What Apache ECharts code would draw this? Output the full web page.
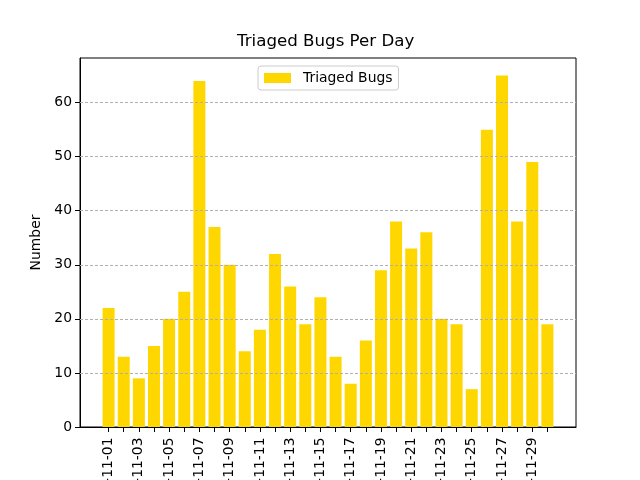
<!DOCTYPE html>
<html>
<head>
<meta charset="utf-8">
<script src="https://cdn.jsdelivr.net/npm/echarts@6/dist/echarts.min.js"></script>
<style>html,body{margin:0;padding:0;background:#fff}#c{width:640px;height:480px}</style>
</head>
<body>
<div id="c"></div>
<script>
const categories = ["2019-11-01","2019-11-02","2019-11-03","2019-11-04","2019-11-05","2019-11-06","2019-11-07","2019-11-08","2019-11-09","2019-11-10","2019-11-11","2019-11-12","2019-11-13","2019-11-14","2019-11-15","2019-11-16","2019-11-17","2019-11-18","2019-11-19","2019-11-20","2019-11-21","2019-11-22","2019-11-23","2019-11-24","2019-11-25","2019-11-26","2019-11-27","2019-11-28","2019-11-29","2019-11-30"];
const triagedBugs = [22,13,9,15,20,25,64,37,30,14,18,32,26,19,24,13,8,16,29,38,33,36,20,19,7,55,65,38,49,19];
const yTicks = [0,10,20,30,40,50,60];

const idx = categories.map((_, i) => i);
const labelIdx = idx.filter(i => i % 2 === 0);
const font = 'DejaVu Sans';
const fs = 13.9;
const chart = echarts.init(document.getElementById('c'), null, {renderer: 'canvas'});
chart.setOption({
  animation: false,
  backgroundColor: '#fff',
  title: {
    text: 'Triaged Bugs Per Day', left: 237, top: 33, padding: 0,
    textStyle: {fontFamily: font, fontSize: 16.67, fontWeight: 'normal', color: '#000'}
  },
  legend: {
    top: 66, left: 258,
    data: ['Triaged Bugs'],
    icon: 'rect', itemWidth: 27, itemHeight: 10, itemGap: 10,
    padding: [5, 6, 5, 6],
    borderColor: '#cccccc', borderWidth: 1, borderRadius: 3, backgroundColor: '#fff',
    textStyle: {fontFamily: font, fontSize: fs, color: '#000', padding: [0, 0, 0, 7]}
  },
  grid: {left: 80, right: 64, top: 58, bottom: 53, show: true, borderColor: '#000', borderWidth: 1, containLabel: false, outerBoundsMode: 'none'},
  xAxis: {
    type: 'value', min: -1.89, max: 30.89,
    axisLine: {show: true, onZero: false, lineStyle: {color: '#000'}},
    axisTick: {show: true, length: 5, lineStyle: {color: '#000'}, customValues: idx},
    axisLabel: {
      show: true, rotate: 90, customValues: labelIdx, margin: 10.5,
      fontFamily: font, fontSize: fs, color: '#000',
      formatter: v => categories[Math.round(v)]
    },
    splitLine: {show: false}
  },
  yAxis: {
    type: 'value', min: 0, max: 68.25,
    name: 'Number', nameLocation: 'middle', nameGap: 35,
    nameTextStyle: {fontFamily: font, fontSize: fs, color: '#000'},
    axisLine: {show: true, onZero: false, lineStyle: {color: '#000'}},
    axisTick: {show: true, length: 5, lineStyle: {color: '#000'}, customValues: yTicks},
    axisLabel: {customValues: yTicks, fontFamily: font, fontSize: fs, color: '#000', margin: 8},
    splitLine: {show: false}
  },
  series: [
    {
      name: 'Triaged Bugs', type: 'bar', barWidth: 12,
      itemStyle: {color: '#FFD700'},
      data: triagedBugs.map((v, i) => [i, v]),
      markLine: {
        silent: true, symbol: 'none', label: {show: false},
        lineStyle: {color: '#b0b0b0', type: [3, 2], width: 1},
        data: yTicks.filter(t => t > 0).map(t => ({yAxis: t}))
      },
      z: 2
    }
  ]
});
</script>
</body>
</html>
